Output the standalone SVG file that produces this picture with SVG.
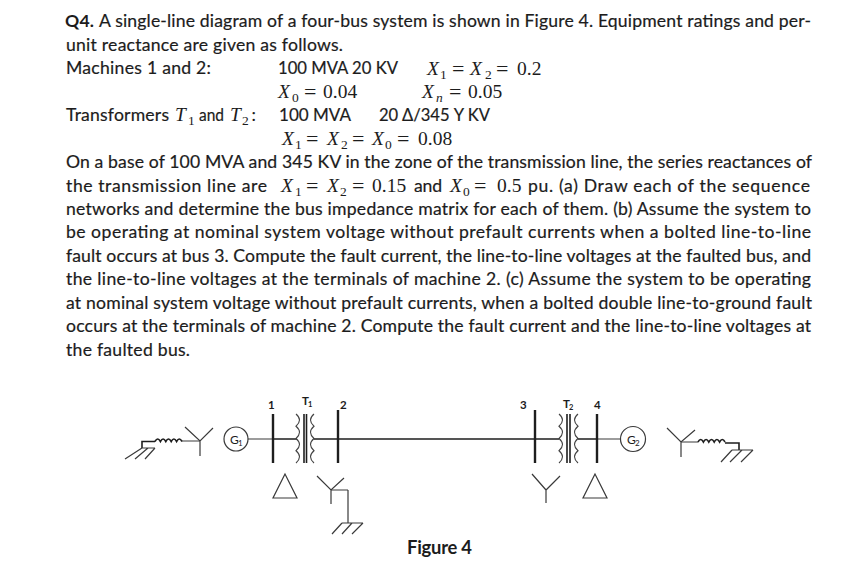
<svg xmlns="http://www.w3.org/2000/svg" width="852" height="570" viewBox="0 0 852 570">
<style>
text{fill:#1c1c1c}
.t{font-family:Lato,"Open Sans",sans-serif;font-size:17.6px;stroke:#1c1c1c;stroke-width:.2px}
.b{font-family:Lato,"Open Sans",sans-serif;font-size:17.6px;font-weight:700}
.f{font-family:Lato,"Open Sans",sans-serif;font-size:18.4px;font-weight:700}
.m{font-family:"Liberation Serif",serif;font-size:19.5px}
.e{font-family:"Liberation Serif",serif;font-size:22px}
.i{font-family:"Liberation Serif",serif;font-size:19.5px;font-style:italic}
.s{font-family:"Liberation Serif",serif;font-size:13.5px}
.si{font-family:"Liberation Serif",serif;font-size:13.5px;font-style:italic}
.l{font-family:Lato,"Open Sans",sans-serif;font-size:11.5px;font-weight:700}
.ls{font-family:Lato,"Open Sans",sans-serif;font-size:7.5px;font-weight:700}
.g{font-family:Lato,"Open Sans",sans-serif;font-size:12px}
.gs{font-family:Lato,"Open Sans",sans-serif;font-size:8px}
.w{fill:none;stroke:#3a3a3a;stroke-width:1.2}
.d{fill:none;stroke:#1e1e1e;stroke-width:1.6}
.bus{fill:none;stroke:#1e1e1e;stroke-width:2.4}
.c{fill:none;stroke:#444;stroke-width:1.1}
</style>
<g id="question">
<text class="b" x="65" y="27" textLength="29" lengthAdjust="spacing">Q4.</text>
<text class="t" x="99" y="27" textLength="712" lengthAdjust="spacing">A single-line diagram of a four-bus system is shown in Figure 4. Equipment ratings and per-</text>
<text class="t" x="66" y="51" textLength="277" lengthAdjust="spacing">unit reactance are given as follows.</text>
<text class="t" x="66" y="74" textLength="145" lengthAdjust="spacing">Machines 1 and 2:</text>
<text class="t" x="278" y="74" textLength="120" lengthAdjust="spacingAndGlyphs">100 MVA 20 KV</text>
<text class="i" x="427" y="75">X</text><text class="s" x="440" y="79">1</text><text class="e" x="452" y="76">=</text><text class="i" x="470" y="75">X</text><text class="s" x="485" y="79">2</text><text class="e" x="496" y="76">=</text><text class="m" x="517" y="75">0.2</text>
<text class="i" x="278" y="98">X</text><text class="s" x="292" y="102">0</text><text class="e" x="304" y="99">=</text><text class="m" x="323" y="98">0.04</text>
<text class="i" x="422" y="98">X</text><text class="si" x="436" y="102">n</text><text class="e" x="449" y="99">=</text><text class="m" x="468" y="98">0.05</text>
<text class="t" x="66" y="121" textLength="103" lengthAdjust="spacing">Transformers</text>
<text class="i" x="175" y="121">T</text><text class="s" x="188" y="125">1</text>
<text class="t" x="199" y="121" textLength="25" lengthAdjust="spacingAndGlyphs">and</text>
<text class="i" x="230" y="121">T</text><text class="s" x="242" y="125">2</text><text class="m" x="251" y="121">:</text>
<text class="t" x="279" y="121" textLength="72" lengthAdjust="spacingAndGlyphs">100 MVA</text>
<text class="t" x="379" y="121" textLength="111" lengthAdjust="spacingAndGlyphs">20 Δ/345 Y KV</text>
<text class="i" x="282" y="145">X</text><text class="s" x="295" y="149">1</text><text class="e" x="306" y="146">=</text><text class="i" x="327" y="145">X</text><text class="s" x="341" y="149">2</text><text class="e" x="352" y="146">=</text><text class="i" x="372" y="145">X</text><text class="s" x="385" y="149">0</text><text class="e" x="397" y="146">=</text><text class="m" x="418" y="145">0.08</text>
<text class="t" x="66" y="168" textLength="746" lengthAdjust="spacing">On a base of 100 MVA and 345 KV in the zone of the transmission line, the series reactances of</text>
<text class="t" x="66" y="192" textLength="201" lengthAdjust="spacing">the transmission line are</text>
<text class="i" x="281" y="192">X</text><text class="s" x="295" y="196">1</text><text class="e" x="306" y="193">=</text><text class="i" x="327" y="192">X</text><text class="s" x="340" y="196">2</text><text class="e" x="352" y="193">=</text><text class="m" x="372" y="192">0.15</text>
<text class="t" x="414" y="192" textLength="28" lengthAdjust="spacing">and</text>
<text class="i" x="450" y="192">X</text><text class="s" x="463" y="196">0</text><text class="e" x="474" y="193">=</text><text class="m" x="497" y="192">0.5</text>
<text class="t" x="528" y="192" textLength="282" lengthAdjust="spacing">pu. (a) Draw each of the sequence</text>
<text class="t" x="66" y="215" textLength="745" lengthAdjust="spacing">networks and determine the bus impedance matrix for each of them. (b) Assume the system to</text>
<text class="t" x="66" y="238" textLength="745" lengthAdjust="spacing">be operating at nominal system voltage without prefault currents when a bolted line-to-line</text>
<text class="t" x="66" y="262" textLength="745" lengthAdjust="spacing">fault occurs at bus 3. Compute the fault current, the line-to-line voltages at the faulted bus, and</text>
<text class="t" x="66" y="285" textLength="745" lengthAdjust="spacing">the line-to-line voltages at the terminals of machine 2. (c) Assume the system to be operating</text>
<text class="t" x="66" y="309" textLength="746" lengthAdjust="spacing">at nominal system voltage without prefault currents, when a bolted double line-to-ground fault</text>
<text class="t" x="66" y="332" textLength="745" lengthAdjust="spacing">occurs at the terminals of machine 2. Compute the fault current and the line-to-line voltages at</text>
<text class="t" x="66" y="356" textLength="124" lengthAdjust="spacing">the faulted bus.</text>
</g>
<g id="connectors">
<path class="d" d="M273 439H297M314 439H559M578 439H597"/>
<path class="w" d="M248 439H273M597 439H620"/>
<path class="w" d="M200 441H182M348 490V523M331 490H348M681 442H698"/>
<path class="d" d="M155 441.500H142V448M725 443H739V450"/>
</g>
<g id="G1"><circle class="w" cx="236" cy="439" r="12"/><text class="g" x="230" y="443.500">G</text><text class="gs" x="238" y="445.500">1</text></g>
<g id="G2"><circle class="w" cx="633" cy="439" r="12.500"/><text class="g" x="627" y="443.500">G</text><text class="gs" x="635" y="445.500">2</text></g>
<g id="bus1"><path class="bus" d="M273 414V463"/><text class="l" x="268" y="409">1</text></g>
<g id="bus2"><path class="bus" d="M338 410V463"/><text class="l" x="340" y="409">2</text></g>
<g id="bus3"><path class="bus" d="M535 410V463"/><text class="l" x="520" y="409">3</text></g>
<g id="bus4"><path class="bus" d="M597 414V463"/><text class="l" x="594" y="409">4</text></g>
<g id="T1">
<path class="d" d="M304 414V463M306.500 414V463"/>
<path class="c" d="M296 414q7 6 0 12.250q7 6 0 12.250q7 6 0 12.250q7 6 0 12.250M314 414q-7 6 0 12.250q-7 6 0 12.250q-7 6 0 12.250q-7 6 0 12.250"/>
<text class="l" x="302" y="405">T</text><text class="ls" x="308" y="407">1</text>
</g>
<g id="T2">
<path class="d" d="M567 414V463M570 414V463"/>
<path class="c" d="M559 414q7 6 0 12.250q7 6 0 12.250q7 6 0 12.250q7 6 0 12.250M578 414q-7 6 0 12.250q-7 6 0 12.250q-7 6 0 12.250q-7 6 0 12.250"/>
<text class="l" x="563" y="408">T</text><text class="ls" x="569" y="410">2</text>
</g>
<g id="delta1"><path class="w" d="M285 474L273 498H297Z"/></g>
<g id="delta2"><path class="w" d="M595 474L583 498H607Z"/></g>
<g id="wye-T1"><path class="w" d="M317 476L331 490L344 478M331 490V504"/></g>
<g id="wye-T2"><path class="w" d="M532 474L546 490L560 476M546 490V503"/></g>
<g id="wye-G1"><path class="w" d="M185 427L200 441L213 428M200 441V456"/></g>
<g id="wye-G2"><path class="w" d="M667 428L681 442L695 430M681 442V457"/></g>
<g id="reactor-G1"><path class="d" d="M155 441.500q2.700 -5 5.400 0q2.700 -5 5.400 0q2.700 -5 5.400 0q2.700 -5 5.400 0q2.700 -5 5.400 0"/></g>
<g id="reactor-G2"><path class="d" d="M698 442q2.700 -5 5.400 0q2.700 -5 5.400 0q2.700 -5 5.400 0q2.700 -5 5.400 0q2.700 -5 5.400 0"/></g>
<g id="ground-G1"><path class="w" d="M142 448H155M142 448L125 459M148 448L135 459M155 448L145 459"/></g>
<g id="ground-T1"><path class="w" d="M342 523H363M342 523L332 534M352 523L342 534M363 523L352 534"/></g>
<g id="ground-G2"><path class="w" d="M732 450H753M732 450L721 462M742 450L730 462M753 450L741 462"/></g>
<g id="caption"><text class="f" x="407" y="554" textLength="65" lengthAdjust="spacing">Figure 4</text></g>
</svg>
